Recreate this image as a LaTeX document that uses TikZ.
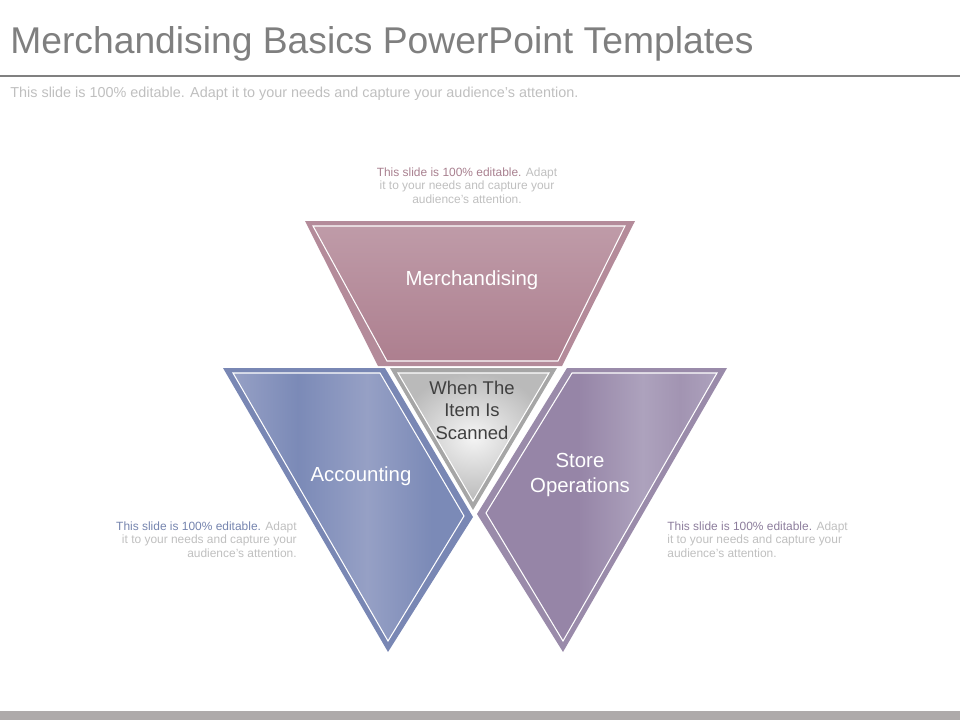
\documentclass[tikz,border=0pt]{standalone}
\usepackage{fontspec}
\setmainfont{Liberation Sans}
\usepackage{xcolor}
\usetikzlibrary{positioning,calc}

\definecolor{titlegray}{HTML}{7F7F7F}
\definecolor{rulegray}{HTML}{808080}
\definecolor{notegray}{HTML}{BFBFBF}
\definecolor{bargray}{HTML}{AEAAAA}
\definecolor{merchrim}{HTML}{B48B9A}
\definecolor{merchtop}{HTML}{BF9BA8}
\definecolor{merchbot}{HTML}{AD7F8F}
\definecolor{merchtxt}{HTML}{A8808F}
\definecolor{acctrim}{HTML}{7987B4}
\definecolor{acctdark}{HTML}{7B8AB7}
\definecolor{acctlight}{HTML}{96A0C5}
\definecolor{accttxt}{HTML}{7584AE}
\definecolor{storerim}{HTML}{9A8BAA}
\definecolor{storedark}{HTML}{9685A7}
\definecolor{storemid}{HTML}{A294B2}
\definecolor{storelight}{HTML}{ADA2BD}
\definecolor{storetxt}{HTML}{8C7D9C}
\definecolor{scanrim}{HTML}{A6A6A6}
\definecolor{scanedge}{HTML}{BABABA}
\definecolor{scantxt}{HTML}{404040}

% banded fills, path box maps to 25bp..75bp
\pgfdeclarehorizontalshading{acctband}{100bp}{color(0bp)=(acctlight); color(25bp)=(acctlight); color(39bp)=(acctdark); color(54bp)=(acctlight); color(68bp)=(acctdark); color(100bp)=(acctdark)}
\pgfdeclarehorizontalshading{storeband}{100bp}{color(0bp)=(storedark); color(25bp)=(storedark); color(45bp)=(storedark); color(59bp)=(storelight); color(67bp)=(storemid); color(75bp)=(storelight); color(100bp)=(storelight)}

\begin{document}
\begin{tikzpicture}[
  x=0.02cm, y=-0.02cm,
  lbl/.style={text=white, align=center, inner sep=0pt, font=\fontsize{11.6}{14}\selectfont},
  note/.style={text=notegray, inner sep=0pt, font=\fontsize{6.8}{7.9}\selectfont},
  rim/.style={draw=white, line width=0.6pt, line join=miter}
]
  \useasboundingbox (0,0) rectangle (960,720);

  % header and footer
  \node[anchor=base west, inner sep=0pt, text=titlegray, font=\fontsize{21.2}{24}\selectfont] (title) at (10,53) {Merchandising Basics PowerPoint Templates};
  \draw[rulegray, line width=1.7pt] (0,76) -- (960,76);
  \node[anchor=base west, note, font=\fontsize{8.2}{9}\selectfont] (subtitle) at (10,97) {This slide is 100\% editable. Adapt it to your needs and capture your audience's attention.};
  \fill[bargray] (0,711) rectangle (960,720);

  % top piece
  \fill[merchrim] (305,221) -- (635,221) -- (562,366) -- (378,366) -- cycle;
  \shadedraw[rim, top color=merchtop, bottom color=merchbot] (313,226) -- (625,226) -- (558,361) -- (387,361) -- cycle;

  % left piece
  \fill[acctrim] (223,368) -- (385,368) -- (473,517) -- (388,652) -- cycle;
  \shadedraw[rim, shading=acctband] (233,373) -- (380,373) -- (464,516) -- (388,641) -- cycle;

  % right piece
  \fill[storerim] (727,368) -- (567,368) -- (477,514) -- (563,652) -- cycle;
  \shadedraw[rim, shading=storeband] (717,373) -- (572,373) -- (486,513) -- (563,641) -- cycle;

  % centre piece
  \fill[scanrim] (390,368) -- (557,368) -- (473,510) -- cycle;
  \shadedraw[rim, inner color=white!96!black, outer color=scanedge] (398,373) -- (549,373) -- (473,501) -- cycle;

  % labels
  \node[lbl] (merch) at (472,280) {Merchandising};
  \node[lbl] (acct) at (361,476) {Accounting};
  \node[lbl, font=\fontsize{11.6}{14.2}\selectfont] (store) at (580,475) {Store\\Operations};
  \node[lbl, text=scantxt, font=\fontsize{10.5}{12.8}\selectfont] (scan) at (472,410) {When The\\Item Is\\Scanned};

  % notes
  \node[note, anchor=north, align=center] (merchnote) at (467,167) {\textcolor{merchtxt}{This slide is 100\% editable.} Adapt\\it to your needs and capture your\\audience's attention.};
  \node[note, anchor=north east, align=right] (acctnote) at (297,521) {\textcolor{accttxt}{This slide is 100\% editable.} Adapt\\it to your needs and capture your\\audience's attention.};
  \node[note, anchor=north west, align=left] (storenote) at (667,521) {\textcolor{storetxt}{This slide is 100\% editable.} Adapt\\it to your needs and capture your\\audience's attention.};
\end{tikzpicture}
\end{document}
